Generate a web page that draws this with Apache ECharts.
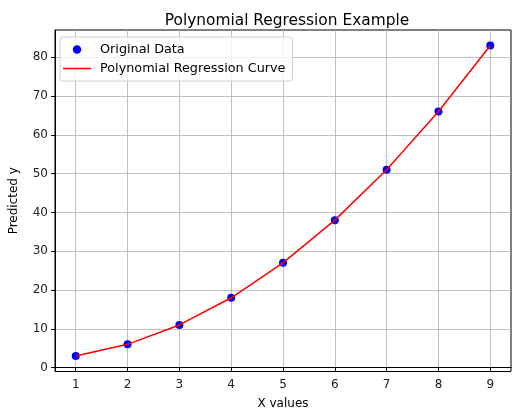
<!DOCTYPE html>
<html><head><meta charset="utf-8">
<script src="https://cdn.jsdelivr.net/npm/echarts@6/dist/echarts.min.js"></script>
<style>html,body{margin:0;padding:0;background:#fff}#c{width:519px;height:420px}</style>
</head><body><div id="c"></div>
<script>
const xValues = [1, 2, 3, 4, 5, 6, 7, 8, 9];
const yOriginal = [3, 6, 11, 18, 27, 38, 51, 66, 83];
const yFitted = [3, 6, 11, 18, 27, 38, 51, 66, 83];
const xTicks = [1, 2, 3, 4, 5, 6, 7, 8, 9];
const yTicks = [0, 10, 20, 30, 40, 50, 60, 70, 80];

const font = 'DejaVu Sans';
const chart = echarts.init(document.getElementById('c'), null, {renderer: 'canvas'});
chart.setOption({
  animation: false,
  textStyle: {fontFamily: font},
  title: {
    text: 'Polynomial Regression Example',
    left: 282, top: 8, textAlign: 'center',
    textStyle: {fontFamily: font, fontSize: 15.4, fontWeight: 'normal', color: '#000'}
  },
  grid: {left: 52, right: 8, top: 30, bottom: 48.5, show: true, borderColor: '#000', borderWidth: 1, backgroundColor: 'transparent'},
  legend: {
    orient: 'vertical', left: 60, top: 37,
    padding: [5, 7, 5, 3], itemGap: 4,
    borderColor: '#d0d0d0', borderWidth: 1, borderRadius: 3,
    backgroundColor: 'rgba(255,255,255,0.8)',
    itemWidth: 28, itemHeight: 8.5,
    symbolKeepAspect: true,
    textStyle: {fontFamily: font, fontSize: 12.8, color: '#000', padding: [0, 0, 0, 4], lineHeight: 15},
    data: [
      {name: 'Original Data', icon: 'circle', itemStyle: {color: '#0000ff', opacity: 1}},
      {name: 'Polynomial Regression Curve', icon: 'path://M0,0H40V2.2H0Z', itemStyle: {color: '#ff0000'}}
    ]
  },
  xAxis: {
    type: 'value', min: 0.6, max: 9.4,
    name: 'X values', nameLocation: 'middle', nameGap: 26,
    nameTextStyle: {fontFamily: font, fontSize: 12, color: '#000'},
    axisLine: {show: true, lineStyle: {color: '#000', width: 1}},
    axisTick: {show: true, length: 4, customValues: xTicks, lineStyle: {color: '#000'}},
    axisLabel: {customValues: xTicks, fontFamily: font, fontSize: 12, color: '#222', margin: 7},
    splitLine: {show: true, lineStyle: {color: '#b0b0b0', width: 0.8}}
  },
  yAxis: {
    type: 'value', min: -1, max: 87,
    name: 'Predicted y', nameLocation: 'middle', nameGap: 35,
    nameTextStyle: {fontFamily: font, fontSize: 12, color: '#000'},
    axisLine: {show: true, lineStyle: {color: '#000', width: 1}},
    axisTick: {show: true, length: 4, customValues: yTicks, lineStyle: {color: '#000'}},
    axisLabel: {customValues: yTicks, fontFamily: font, fontSize: 12, color: '#222', margin: 7},
    splitLine: {show: true, lineStyle: {color: '#b0b0b0', width: 0.8}}
  },
  series: [
    {
      name: 'Original Data', type: 'scatter', symbolSize: 8,
      itemStyle: {color: '#0000ff', opacity: 1},
      data: xValues.map((x, i) => [x, yOriginal[i]]), z: 2
    },
    {
      name: 'Polynomial Regression Curve', type: 'line', showSymbol: false, symbol: 'none',
      lineStyle: {color: '#ff0000', width: 1.5}, itemStyle: {color: '#ff0000'},
      data: xValues.map((x, i) => [x, yFitted[i]]), z: 3
    }
  ]
});
</script></body></html>
